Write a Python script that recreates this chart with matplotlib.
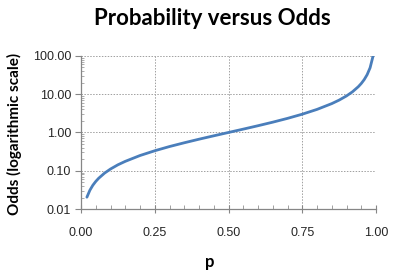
import matplotlib
matplotlib.use("Agg")
import matplotlib.pyplot as plt
from matplotlib.ticker import FixedLocator, LogLocator, NullFormatter, FuncFormatter

p_values = [0.02, 0.03, 0.04, 0.05, 0.06, 0.08, 0.10, 0.125, 0.15, 0.20, 0.25, 0.30,
            0.35, 0.40, 0.45, 0.50, 0.55, 0.60, 0.65, 0.70, 0.75, 0.80, 0.85, 0.875,
            0.90, 0.92, 0.94, 0.95, 0.96, 0.97, 0.98, 0.99]
odds_values = [0.0204, 0.0309, 0.0417, 0.0526, 0.0638, 0.0870, 0.111, 0.143, 0.176, 0.25,
               0.333, 0.429, 0.538, 0.667, 0.818, 1.0, 1.222, 1.5, 1.857, 2.333, 3.0,
               4.0, 5.667, 7.0, 9.0, 11.5, 15.67, 19.0, 24.0, 32.33, 49.0, 99.0]
x_ticks = [0.00, 0.25, 0.50, 0.75, 1.00]
y_ticks = [0.01, 0.1, 1, 10, 100]

fig = plt.figure(figsize=(4.0, 2.78), dpi=100)
ax = fig.add_axes([0.2025, 0.248, 0.7375, 0.551])

ax.plot(p_values, odds_values, color="#4a7ebb", linewidth=2.0, solid_capstyle="round")

ax.set_yscale("log")
ax.set_xlim(0, 1)
ax.set_ylim(0.01, 100)
ax.xaxis.set_major_locator(FixedLocator(x_ticks))
ax.xaxis.set_minor_locator(FixedLocator([i * 0.05 for i in range(21)]))
ax.xaxis.set_major_formatter(FuncFormatter(lambda v, _: f"{v:.2f}"))
ax.yaxis.set_major_locator(FixedLocator(y_ticks))
ax.yaxis.set_minor_locator(LogLocator(base=10, subs=range(2, 10)))
ax.yaxis.set_minor_formatter(NullFormatter())
ax.yaxis.set_major_formatter(FuncFormatter(lambda v, _: f"{v:.2f}"))

for s in ["top", "right"]:
    ax.spines[s].set_visible(False)
for s in ["left", "bottom"]:
    ax.spines[s].set_color("#868686")
    ax.spines[s].set_linewidth(0.9)

ax.grid(True, which="major", linestyle=(0, (1.5, 1.5)), color="#a0a0a0", linewidth=0.7)
ax.tick_params(which="major", direction="out", length=4, color="#868686", width=0.8,
               labelsize=9, labelcolor="#262626", pad=3)
ax.tick_params(axis="y", which="minor", direction="in", length=2, color="#a0a0a0", width=0.6)
ax.tick_params(axis="x", which="minor", direction="in", length=3, color="#a0a0a0", width=0.7)
ax.tick_params(axis="x", which="major", direction="inout", length=6, pad=10)

for lbl in ax.get_xticklabels() + ax.get_yticklabels():
    lbl.set_fontfamily("Liberation Sans")

fig.text(0.53, 0.935, "Probability versus Odds", ha="center", va="center",
         fontsize=16, fontweight="bold", family="Lato")
fig.text(0.525, 0.058, "p", ha="center", va="center", fontsize=12, fontweight="bold", family="Lato")
fig.text(0.035, 0.52, "Odds (logarithmic scale)", ha="center", va="center", rotation=90,
         fontsize=11, fontweight="bold", family="Lato")

fig.savefig("out.png", dpi=100)
